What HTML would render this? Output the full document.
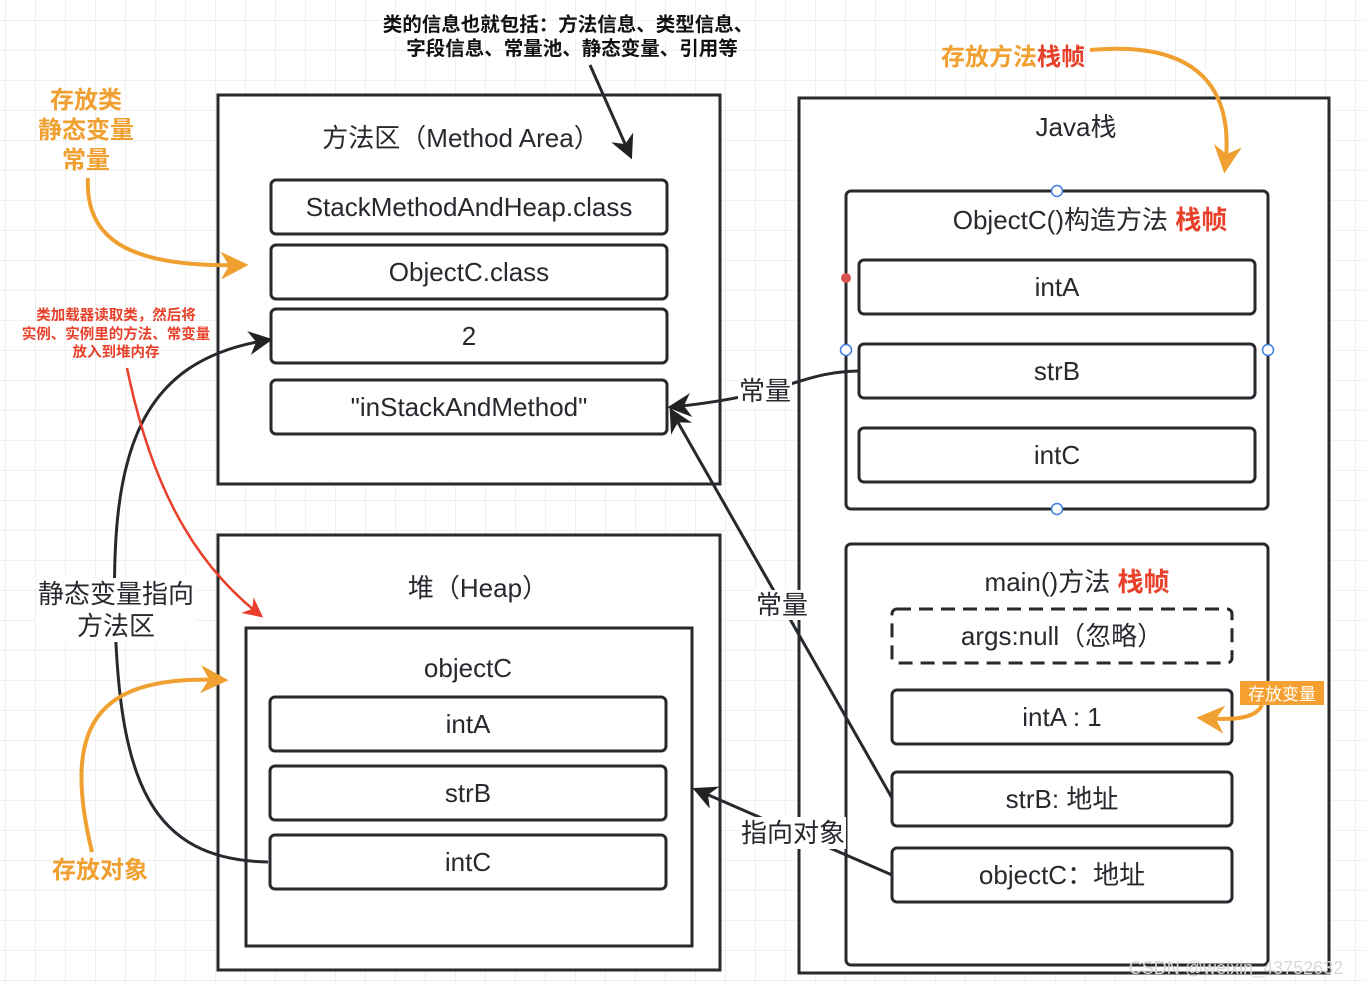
<!DOCTYPE html>
<html><head><meta charset="utf-8"><style>
html,body{margin:0;padding:0;background:#fff}
svg{display:block}
text{font-family:"Liberation Sans","Noto Sans CJK SC",sans-serif}
</style></head><body>
<svg width="1366" height="986" viewBox="0 0 1366 986" xmlns="http://www.w3.org/2000/svg">
<defs>
<pattern id="g" x="5" y="20" width="30" height="30" patternUnits="userSpaceOnUse">
<path d="M0 0H30M0 0V30" stroke="#ebebeb" stroke-width="1.5" fill="none"/>
</pattern>
<marker id="ab" viewBox="0 0 10 10" refX="8" refY="5" markerWidth="8" markerHeight="8" orient="auto"><path d="M0 0L10 5L0 10L3 5Z" fill="#222"/></marker>
<marker id="ao" viewBox="0 0 10 10" refX="8" refY="5" markerWidth="7" markerHeight="7" orient="auto"><path d="M0 0L10 5L0 10L3 5Z" fill="#f0a030"/></marker>
<marker id="ar" viewBox="0 0 10 10" refX="8" refY="5" markerWidth="8" markerHeight="8" orient="auto"><path d="M0 0L10 5L0 10L3 5Z" fill="#e8402a"/></marker>
</defs>
<rect width="1366" height="986" fill="url(#g)"/>
<g fill="none" stroke="#26292e" stroke-width="3">
<rect x="218" y="95" width="502" height="389" fill="#fff"/>
<rect x="218" y="535" width="502" height="435" fill="#fff"/>
<rect x="799" y="98" width="530" height="875" fill="#fff"/>
<rect x="271" y="180" width="396" height="54" rx="5"/>
<rect x="271" y="245" width="396" height="54" rx="5"/>
<rect x="271" y="309" width="396" height="54" rx="5"/>
<rect x="271" y="380" width="396" height="54" rx="5"/>
<rect x="246" y="628" width="446" height="318"/>
<rect x="270" y="697" width="396" height="54" rx="5"/>
<rect x="270" y="766" width="396" height="54" rx="5"/>
<rect x="270" y="835" width="396" height="54" rx="5"/>
<rect x="846" y="191" width="422" height="318" rx="5"/>
<rect x="859" y="260" width="396" height="54" rx="5"/>
<rect x="859" y="344" width="396" height="54" rx="5"/>
<rect x="859" y="428" width="396" height="54" rx="5"/>
<rect x="846" y="544" width="422" height="421" rx="5"/>
<rect x="892" y="609" width="340" height="54" rx="5" stroke-dasharray="14 8"/>
<rect x="892" y="690" width="340" height="54" rx="5"/>
<rect x="892" y="772" width="340" height="54" rx="5"/>
<rect x="892" y="848" width="340" height="54" rx="5"/>
</g>
<g fill="#fff" stroke="#3b7de0" stroke-width="1.5">
<circle cx="1057" cy="191" r="5.5"/><circle cx="846" cy="350" r="5.5"/><circle cx="1268" cy="350" r="5.5"/><circle cx="1057" cy="509" r="5.5"/>
</g>
<circle cx="846" cy="278" r="5" fill="#d9534f"/>
<g fill="none" stroke="#26292e" stroke-width="3">
<path d="M858 371 C800 372 790 395 672 407" marker-end="url(#ab)"/>
<path d="M892 798 L672 412" marker-end="url(#ab)"/>
<path d="M892 875 L697 790" marker-end="url(#ab)"/>
<path d="M268 862 C150 860 120 780 115 620 C110 450 140 360 268 340" marker-end="url(#ab)"/>
<path d="M590 65 L630 155" marker-end="url(#ab)"/>
</g>
<g fill="none" stroke="#f0a030" stroke-width="4">
<path d="M88 178 C85 240 130 268 243 265" marker-end="url(#ao)"/>
<path d="M1090 50 C1200 40 1235 90 1225 168" marker-end="url(#ao)"/>
<path d="M92 852 C60 720 100 675 223 680" marker-end="url(#ao)"/>
<path d="M1262 705 C1255 720 1230 720 1202 718" marker-end="url(#ao)"/>
</g>
<path d="M127 368 C150 480 190 560 260 615" fill="none" stroke="#e8402a" stroke-width="2.5" marker-end="url(#ar)"/>
<g fill="#fff">
<rect x="738" y="376" width="54" height="30"/>
<rect x="755" y="590" width="54" height="30"/>
<rect x="740" y="817" width="106" height="32"/>
<rect x="36" y="578" width="160" height="64"/>
</g>
<rect x="1240" y="681" width="84" height="24" fill="#f5a030"/>
<g font-size="26" fill="#26292e" text-anchor="middle">
<text x="461" y="147">方法区（Method Area）</text>
<text x="469" y="216">StackMethodAndHeap.class</text>
<text x="469" y="281">ObjectC.class</text>
<text x="469" y="345">2</text>
<text x="469" y="416">"inStackAndMethod"</text>
<text x="478" y="597">堆（Heap）</text>
<text x="468" y="677">objectC</text>
<text x="468" y="733">intA</text>
<text x="468" y="802">strB</text>
<text x="468" y="871">intC</text>
<text x="1076" y="136">Java栈</text>
<text x="1057" y="296">intA</text>
<text x="1057" y="380">strB</text>
<text x="1057" y="464">intC</text>
<text x="1062" y="645">args:null（忽略）</text>
<text x="1062" y="726">intA : 1</text>
<text x="1062" y="808">strB: 地址</text>
<text x="1062" y="884">objectC：地址</text>
<text x="765" y="400">常量</text>
<text x="782" y="614">常量</text>
<text x="793" y="842">指向对象</text>
<text x="116" y="603">静态变量指向</text>
<text x="116" y="635">方法区</text>
</g>
<text x="1090" y="229" font-size="26" fill="#26292e" text-anchor="middle">ObjectC()构造方法 <tspan fill="#e8402a" font-weight="bold">栈帧</tspan></text>
<text x="1077" y="591" font-size="26" fill="#26292e" text-anchor="middle">main()方法  <tspan fill="#e8402a" font-weight="bold">栈帧</tspan></text>
<g font-size="19.5" font-weight="bold" fill="#111" text-anchor="middle">
<text x="568" y="31">类的信息也就包括：方法信息、类型信息、</text>
<text x="572" y="55">字段信息、常量池、静态变量、引用等</text>
</g>
<g font-size="24" font-weight="bold" fill="#f0a030" text-anchor="middle">
<text x="86" y="108">存放类</text>
<text x="86" y="138">静态变量</text>
<text x="86" y="168">常量</text>
<text x="100" y="878">存放对象</text>
<text x="1013" y="65">存放方法<tspan fill="#e8402a">栈帧</tspan></text>
</g>
<g font-size="14.5" font-weight="bold" fill="#e8402a" text-anchor="middle">
<text x="116" y="320">类加载器读取类，然后将</text>
<text x="116" y="339">实例、实例里的方法、常变量</text>
<text x="116" y="357">放入到堆内存</text>
</g>
<text x="1282" y="700" font-size="17" fill="#fff" text-anchor="middle">存放变量</text>
<text x="1236" y="974" font-size="18" fill="#d8d8d8" text-anchor="middle">CSDN @weixin_43752632</text>
</svg>
</body></html>
